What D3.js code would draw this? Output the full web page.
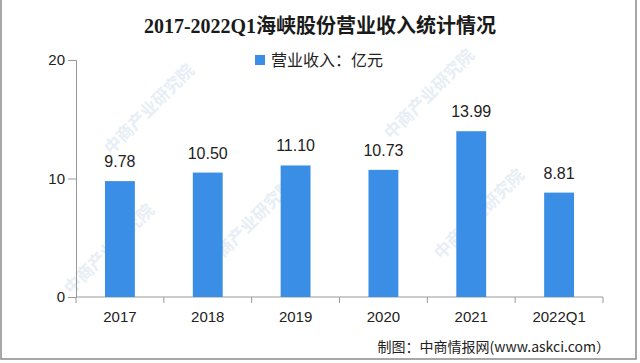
<!DOCTYPE html>
<html>
<head>
<meta charset="utf-8">
<script src="https://cdn.jsdelivr.net/npm/d3@7"></script>
<style>
  body { margin: 0; background: #fff; }
  svg { display: block; }
</style>
</head>
<body>
<div id="chart"></div>
<script>
// data
var categories = ["2017", "2018", "2019", "2020", "2021", "2022Q1"];
var revenue = [9.78, 10.50, 11.10, 10.73, 13.99, 8.81];
var yTicks = [0, 10, 20];
var seriesName = "营业收入：亿元";
var titleText = "2017-2022Q1海峡股份营业收入统计情况";
var sourceText = "制图：中商情报网(www.askci.com）";

var width = 640, height = 363;
var margin = {left: 76, right: 37, top: 60, bottom: 66};

var svg = d3.select("#chart").append("svg")
    .attr("width", width)
    .attr("height", height);

// frame
svg.append("rect")
    .attr("x", 1).attr("y", -2)
    .attr("width", 635).attr("height", 361)
    .attr("fill", "#fff")
    .attr("stroke", "#8a8a8a")
    .attr("stroke-width", 1.5);

// faint watermarks (kept inside the frame)
var marks = [[150, 110], [430, 95], [250, 225], [480, 215], [110, 250]];
svg.selectAll("text.wm")
    .data(marks)
    .enter()
    .append("text")
    .attr("class", "wm")
    .attr("transform", d => "translate(" + d[0] + "," + d[1] + ") rotate(-45)")
    .attr("text-anchor", "middle")
    .attr("dominant-baseline", "middle")
    .style("font", "bold 17px 'Noto Sans CJK SC'")
    .style("fill", "#e8eef5")
    .text("中商产业研究院");

var x = d3.scaleBand()
    .domain(categories)
    .range([margin.left, width - margin.right])
    .paddingInner(0.66)
    .paddingOuter(0.33);

var y = d3.scaleLinear()
    .domain([0, 20])
    .range([height - margin.bottom, margin.top]);

// title
var title = svg.append("text")
    .attr("x", 320)
    .attr("y", 33)
    .attr("text-anchor", "middle")
    .style("font-weight", "bold")
    .style("font-size", "20px")
    .style("fill", "#1a1a1a");
title.append("tspan")
    .style("font-family", "'Liberation Serif'")
    .text(titleText.slice(0, 11));
title.append("tspan")
    .style("font-family", "'Noto Sans CJK SC'")
    .text(titleText.slice(11));

// legend
svg.append("rect")
    .attr("x", 255).attr("y", 55)
    .attr("width", 10).attr("height", 10)
    .attr("fill", "#3a8ee6");
svg.append("text")
    .attr("x", 271).attr("y", 66)
    .style("font", "16px 'Noto Sans CJK SC'")
    .style("fill", "#222")
    .text(seriesName);

// y axis
var yAxis = svg.append("g")
    .attr("transform", "translate(" + margin.left + ",0)")
    .call(d3.axisLeft(y).tickValues(yTicks).tickSize(8).tickPadding(3));
yAxis.selectAll("path, line").attr("stroke", "#999");
yAxis.selectAll("text")
    .style("font", "15px 'Liberation Sans'")
    .style("fill", "#222");

// x axis with ticks at category boundaries
var xBase = height - margin.bottom;
var step = x.step();
svg.append("line")
    .attr("x1", margin.left).attr("x2", width - margin.right)
    .attr("y1", xBase).attr("y2", xBase)
    .attr("stroke", "#999");
svg.selectAll("line.xtick")
    .data(d3.range(categories.length + 1))
    .enter()
    .append("line")
    .attr("class", "xtick")
    .attr("x1", i => margin.left + i * step)
    .attr("x2", i => margin.left + i * step)
    .attr("y1", xBase).attr("y2", xBase + 6)
    .attr("stroke", "#999");
svg.selectAll("text.xlab")
    .data(categories)
    .enter()
    .append("text")
    .attr("class", "xlab")
    .attr("x", d => x(d) + x.bandwidth() / 2)
    .attr("y", xBase + 25)
    .attr("text-anchor", "middle")
    .style("font", "15px 'Liberation Sans'")
    .style("fill", "#222")
    .text(d => d);

// bars
svg.selectAll("rect.bar")
    .data(revenue)
    .enter()
    .append("rect")
    .attr("class", "bar")
    .attr("x", (d, i) => x(categories[i]))
    .attr("y", d => y(d))
    .attr("width", x.bandwidth())
    .attr("height", d => y(0) - y(d))
    .attr("fill", "#3a8ee6");

// value labels
svg.selectAll("text.val")
    .data(revenue)
    .enter()
    .append("text")
    .attr("class", "val")
    .attr("x", (d, i) => x(categories[i]) + x.bandwidth() / 2)
    .attr("y", d => y(d) - 14)
    .attr("text-anchor", "middle")
    .style("font", "16px 'Liberation Sans'")
    .style("fill", "#222")
    .text(d => d.toFixed(2));

// source
svg.append("text")
    .attr("x", 610)
    .attr("y", 352)
    .attr("text-anchor", "end")
    .style("font", "14px 'Noto Sans CJK SC'")
    .style("fill", "#222")
    .text(sourceText);
</script>
</body>
</html>
